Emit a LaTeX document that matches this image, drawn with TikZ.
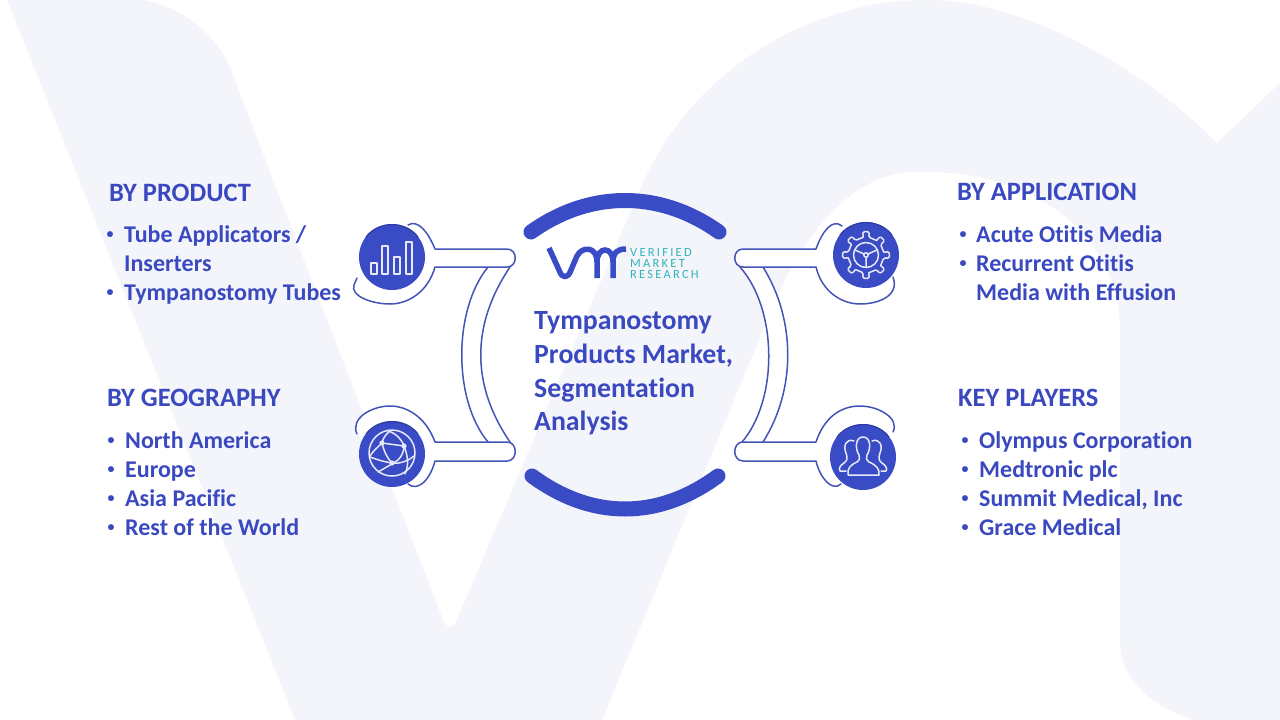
\documentclass[tikz,border=0pt]{standalone}
\usepackage{fontspec}
\setmainfont{Carlito}[BoldFont=Carlito Bold,Ligatures=NoCommon]
\newfontfamily\logofont[LetterSpace=18,Ligatures=NoCommon]{Carlito}
\definecolor{pale}{HTML}{F4F5FB}
\definecolor{vmrblue}{HTML}{3A4BC6}
\definecolor{hubdark}{HTML}{2A379F}
\definecolor{txtblue}{HTML}{3A49BF}
\definecolor{linblue}{HTML}{4453B8}
\definecolor{teal}{HTML}{2FB4B8}
\tikzset{
  headtxt/.style={anchor=base west,inner sep=0pt,text=txtblue,font=\fontsize{26.5}{29}\selectfont\bfseries},
  itemtxt/.style={anchor=base west,inner sep=0pt,text=txtblue,font=\fontsize{24}{29}\selectfont\bfseries},
  dottxt/.style={anchor=base,inner sep=0pt,text=txtblue,font=\fontsize{14}{14}\selectfont\bfseries},
  titletxt/.style={anchor=base west,inner sep=0pt,text=txtblue,font=\fontsize{27.8}{33}\selectfont\bfseries},
  logotxt/.style={anchor=base west,inner sep=0pt,text=teal,font=\fontsize{12.5}{11}\selectfont\logofont},
  outline/.style={draw=linblue,line width=1.5pt,line cap=round,line join=round},
  hubdisc/.style={circle,fill=vmrblue,minimum size=66pt,inner sep=0pt},
  hubedge/.style={draw=hubdark,line width=1pt,line cap=round},
  icon/.style={draw=white!88!vmrblue,line width=1.5pt,line cap=round,line join=round},
  bigarc/.style={draw=vmrblue,line width=15pt,line cap=round},
}
\begin{document}
\begin{tikzpicture}[x=1pt,y=-1pt]
\useasboundingbox (0,0) rectangle (1280,720);
\fill[white] (0,0) rectangle (1280,720);
% watermark
\fill[pale] (7,0) -- (143,0) .. controls (185,8) and (215,35) .. (230,67)
  -- (273,180) -- (443,620) .. controls (446,629) and (454,629) .. (457,620)
  -- (495,530) -- (640,190)
  .. controls (690,70) and (810,0) .. (927,0)
  .. controls (1030,0) and (1150,75) .. (1217,143)
  -- (1280,83) -- (1280,720) -- (1193,720)
  .. controls (1150,705) and (1120,680) .. (1120,640)
  -- (1120,330) .. controls (1120,240) and (1040,172) .. (927,172)
  .. controls (855,165) and (800,235) .. (767,320)
  -- (602,720) -- (295,720) -- cycle;
% bands
\fill[white] (488,267) .. controls (453,310) and (453,400) .. (488,442) -- (510,442) .. controls (471,385) and (471,325) .. (510,267) -- cycle;
\fill[white] (740,267) .. controls (778,310) and (778,400) .. (742,442) -- (763,442) .. controls (796,390) and (796,320) .. (763,267) -- cycle;
\draw[outline] (488,267) .. controls (453,310) and (453,400) .. (488,442);
\draw[outline] (510,267) .. controls (471,325) and (471,385) .. (510,442);
\draw[outline] (740,267) .. controls (778,310) and (778,400) .. (742,442);
\draw[outline] (763,267) .. controls (796,320) and (796,390) .. (763,442);
% top-left bracket
\path[fill=white] (408,225) .. controls (418,219) and (428,232) .. (435,249) -- (507,249)
  .. controls (518,249) and (518,267) .. (507,267) -- (435,267)
  .. controls (428,292) and (408,304) .. (390,304) .. controls (372,304) and (350,296) .. (354,285) -- cycle;
\draw[outline] (408,225) .. controls (418,219) and (428,232) .. (435,249) -- (507,249)
  .. controls (518,249) and (518,267) .. (507,267) -- (435,267)
  .. controls (428,292) and (408,304) .. (390,304) .. controls (372,304) and (350,296) .. (354,285) -- (357,278);
% bottom-left bracket
\path[fill=white] (435,442) .. controls (425,415) and (405,406) .. (390,406) .. controls (372,406) and (350,418) .. (357,434) -- (408,484)
  .. controls (418,492) and (430,480) .. (435,461) -- cycle;
\draw[outline] (357,434) .. controls (350,418) and (372,406) .. (390,406) .. controls (405,406) and (425,415) .. (435,442) -- (507,442)
  .. controls (518,442) and (518,461) .. (507,461) -- (435,461)
  .. controls (430,480) and (418,492) .. (408,484);
% top-right bracket
\path[fill=white] (842,226) .. controls (832,218) and (822,232) .. (816,249) -- (743,249)
  .. controls (732,249) and (732,267) .. (743,267) -- (816,267)
  .. controls (822,292) and (842,304) .. (860,304) .. controls (878,304) and (900,296) .. (893,277) -- cycle;
\draw[outline] (842,226) .. controls (832,218) and (822,232) .. (816,249) -- (743,249)
  .. controls (732,249) and (732,267) .. (743,267) -- (816,267)
  .. controls (822,292) and (842,304) .. (860,304) .. controls (878,304) and (900,296) .. (893,277);
% bottom-right bracket
\path[fill=white] (893,432) .. controls (900,418) and (878,406) .. (860,406) .. controls (840,406) and (824,418) .. (816,442) -- (743,442)
  .. controls (732,442) and (732,461) .. (743,461) -- (816,461)
  .. controls (820,478) and (832,492) .. (841,484) -- cycle;
\draw[outline] (893,432) .. controls (900,418) and (878,406) .. (860,406) .. controls (840,406) and (824,418) .. (816,442) -- (743,442)
  .. controls (732,442) and (732,461) .. (743,461) -- (816,461)
  .. controls (820,478) and (832,492) .. (841,484);
% central arcs
\draw[bigarc] (531,232) .. controls (590,190) and (660,190) .. (719,232);
\draw[bigarc] (532,476) .. controls (592,520) and (658,520) .. (718,476);
% hubs
\node[hubdisc] (hubTL) at (392,257) {};
\node[hubdisc] (hubBL) at (392,454) {};
\node[hubdisc] (hubTR) at (866,255) {};
\node[hubdisc] (hubBR) at (863,457) {};
\foreach \hx/\hy in {392/257,392/454,866/255,863/457}{
  \draw[hubedge] ({\hx-26},{\hy-20}) .. controls ({\hx-14},{\hy-36.5}) and ({\hx+14},{\hy-36.5}) .. ({\hx+26},{\hy-20});
}
% bar chart icon
\draw[icon] (371,263) rectangle (377,274);
\draw[icon] (382,246) rectangle (388,274);
\draw[icon] (394,257) rectangle (400,274);
\draw[icon] (406,242) rectangle (412,274);
% globe icon
\begin{scope}[icon]
\draw (392,453) circle[radius=23pt];
\draw (390,431) .. controls (386,434) and (383,438) .. (382,443) .. controls (378,447) and (373,451) .. (370,456);
\draw (382,443) .. controls (384,452) and (388,459) .. (392,463);
\draw (382,443) -- (404,446);
\draw (388,431) .. controls (396,433) and (402,440) .. (404,446) .. controls (408,456) and (409,465) .. (405,474);
\draw (370,457) .. controls (378,460) and (385,462) .. (392,463) .. controls (400,464) and (408,461) .. (414,456);
\draw (378,472) .. controls (385,468) and (392,464) .. (398,460) .. controls (402,456) and (404,451) .. (404,446);
\end{scope}
\fill[white!88!vmrblue] (382,443) circle[radius=2.6pt] (404,446) circle[radius=2.6pt] (392,463) circle[radius=2.6pt];
% gear icon
\draw[icon,rounded corners=1.5pt] \foreach \a in {0,45,...,315}{
  ({866+18*cos(\a-22.5+13.5)},{255+18*sin(\a-22.5+13.5)})
  -- ({866+23.5*cos(\a-9+1)},{255+23.5*sin(\a-9+1)})
  -- ({866+23.5*cos(\a+9-1)},{255+23.5*sin(\a+9-1)})
  -- ({866+18*cos(\a+9)},{255+18*sin(\a+9)})
  -- ({866+18*cos(\a+36)},{255+18*sin(\a+36)})
};
\draw[icon] (866,255) circle[radius=12.5pt];
\draw[icon] (866,255) circle[radius=2.2pt];
\draw[icon] (864,254) -- (855,250) (868,254) -- (877,250) (866,257.5) -- (866,267);
% people icon
\draw[icon] (848,475) .. controls (847,469) and (850,465) .. (857,462) .. controls (860,460) and (860,457) .. (859,455)
  .. controls (855,449) and (855,437) .. (863,437) .. controls (871,437) and (871,449) .. (867,455)
  .. controls (866,457) and (866,460) .. (869,462) .. controls (876,465) and (880,469) .. (879,475) -- cycle;
\draw[icon] (854,441) .. controls (846,438) and (843,446) .. (846,453) .. controls (848,458) and (847,461) .. (844,463) .. controls (841,465) and (838,468) .. (840,471) -- (846,471);
\draw[icon] (872,441) .. controls (880,438) and (883,446) .. (880,453) .. controls (878,458) and (879,461) .. (882,463) .. controls (885,465) and (888,468) .. (886,471) -- (881,471);
% logo
\draw[vmrblue,line width=5.5pt,line cap=butt,line join=round] (549,248) -- (559,270) .. controls (562,279) and (568,279) .. (571,270) -- (577,256)
  .. controls (582,246) and (597,246) .. (597,262) -- (597,278);
\draw[vmrblue,line width=5.5pt,line cap=butt] (597,262) .. controls (597,246) and (613,246) .. (613,262) -- (613,278);
\draw[vmrblue,line width=5.5pt,line cap=butt] (613,262) .. controls (613,252) and (618,249) .. (626,249);
\node[logotxt] (logoA) at (630,256) {VERIFIED};
\node[logotxt] (logoB) at (630,267) {MARKET};
\node[logotxt] (logoC) at (630,278) {RESEARCH};
% title
\node[titletxt] (t1) at (534,329) {Tympanostomy};
\node[titletxt] (t2) at (534,363) {Products Market,};
\node[titletxt] (t3) at (534,397) {Segmentation};
\node[titletxt] (t4) at (534,430) {Analysis};
% by product
\node[headtxt] (hP) at (109,201) {BY PRODUCT};
\node[dottxt] (dP1) at (110,238) {•};
\node[itemtxt] (iP1) at (124,242) {Tube Applicators /};
\node[itemtxt] (iP1b) at (124,271) {Inserters};
\node[dottxt] (dP2) at (110,296) {•};
\node[itemtxt] (iP2) at (124,300) {Tympanostomy Tubes};
% by geography
\node[headtxt] (hG) at (107,406) {BY GEOGRAPHY};
\node[dottxt] (dG1) at (111,444) {•};
\node[itemtxt] (iG1) at (125,448) {North America};
\node[dottxt] (dG2) at (111,473) {•};
\node[itemtxt] (iG2) at (125,477) {Europe};
\node[dottxt] (dG3) at (111,502) {•};
\node[itemtxt] (iG3) at (125,506) {Asia Pacific};
\node[dottxt] (dG4) at (111,531) {•};
\node[itemtxt] (iG4) at (125,535) {Rest of the World};
% by application
\node[headtxt] (hA) at (957,200) {BY APPLICATION};
\node[dottxt] (dA1) at (963,238) {•};
\node[itemtxt] (iA1) at (976,242) {Acute Otitis Media};
\node[dottxt] (dA2) at (963,267) {•};
\node[itemtxt] (iA2) at (976,271) {Recurrent Otitis};
\node[itemtxt] (iA2b) at (976,300) {Media with Effusion};
% key players
\node[headtxt] (hK) at (958,406) {KEY PLAYERS};
\node[dottxt] (dK1) at (965,444) {•};
\node[itemtxt] (iK1) at (979,448) {Olympus Corporation};
\node[dottxt] (dK2) at (965,473) {•};
\node[itemtxt] (iK2) at (979,477) {Medtronic plc};
\node[dottxt] (dK3) at (965,502) {•};
\node[itemtxt] (iK3) at (979,506) {Summit Medical, Inc};
\node[dottxt] (dK4) at (965,531) {•};
\node[itemtxt] (iK4) at (979,535) {Grace Medical};
\end{tikzpicture}
\end{document}
